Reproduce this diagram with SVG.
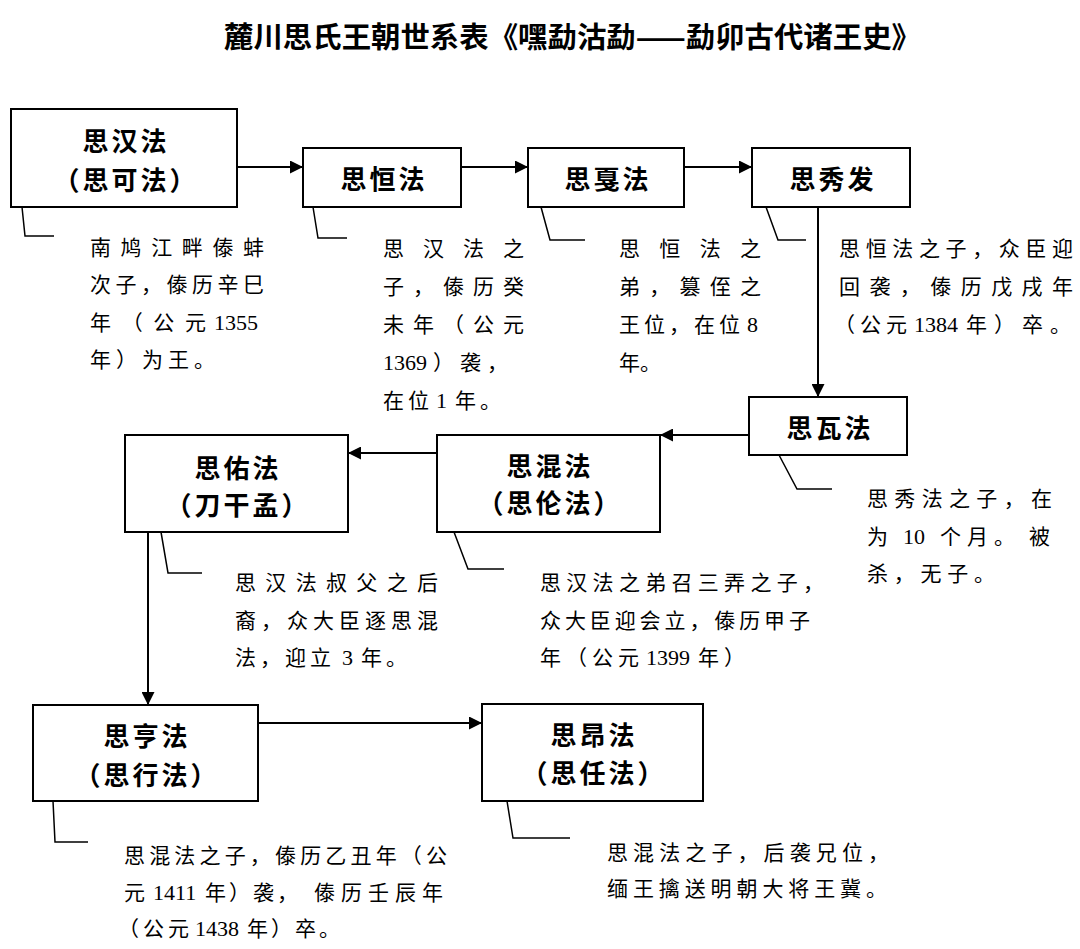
<svg xmlns="http://www.w3.org/2000/svg" width="1080" height="949" viewBox="0 0 1080 949">
<defs>
<marker id="ah" markerUnits="userSpaceOnUse" markerWidth="13" markerHeight="13" refX="13" refY="6.5" orient="auto">
<path d="M0,0 L13,6.5 L0,13 Z" fill="#000"/>
</marker>
<style>
.box{fill:#fff;stroke:#000;stroke-width:2}
.lbl{font-family:"Liberation Serif","Noto Sans CJK SC",serif;font-size:26px;font-weight:700;text-anchor:middle;fill:#000;letter-spacing:3px}
.note{font-family:"Liberation Serif","Noto Sans CJK SC",serif;font-size:21px;fill:#000}
.num{font-size:22px;letter-spacing:0}
.lead{fill:none;stroke:#000;stroke-width:1.5}
.conn{fill:none;stroke:#000;stroke-width:2;marker-end:url(#ah)}
.title{font-family:"Noto Sans CJK SC",sans-serif;font-size:29px;font-weight:700;fill:#000}
</style>
</defs>
<rect width="1080" height="949" fill="#fff"/>
<text class="title" x="224" y="48" textLength="697" lengthAdjust="spacingAndGlyphs">麓川思氏王朝世系表《嘿勐沽勐——勐卯古代诸王史》</text>

<g id="connectors">
<line class="conn" x1="237" y1="167" x2="303" y2="167"/>
<line class="conn" x1="461" y1="167" x2="528" y2="167"/>
<line class="conn" x1="684" y1="167" x2="752" y2="167"/>
<line class="conn" x1="818" y1="207" x2="818" y2="397"/>
<line class="conn" x1="749" y1="435" x2="660" y2="435"/>
<line class="conn" x1="437" y1="453" x2="348" y2="453"/>
<line class="conn" x1="148" y1="532" x2="148" y2="705"/>
<line class="conn" x1="258" y1="723" x2="482" y2="723"/>
</g>

<g id="node-sihanfa">
<rect class="box" x="11" y="109" width="226" height="98"/>
<text class="lbl" x="126" y="151">思汉法</text>
<text class="lbl" x="126" y="190">（思可法）</text>
<path class="lead" d="M22,207 L25,236 L54,236"/>
<text class="note" x="90" y="255" textLength="174" lengthAdjust="spacing">南鸠江畔傣蚌</text>
<text class="note" x="90" y="292" textLength="174" lengthAdjust="spacing">次子，傣历辛巳</text>
<text class="note" y="330"><tspan x="90" textLength="116" lengthAdjust="spacing">年（公元</tspan><tspan class="num" x="214">1355</tspan></text>
<text class="note" x="90" y="367" textLength="125" lengthAdjust="spacing">年）为王。</text>
</g>

<g id="node-sihengfa">
<rect class="box" x="303" y="148" width="158" height="59"/>
<text class="lbl" x="384" y="189">思恒法</text>
<path class="lead" d="M313,207 L318,238 L347,238"/>
<text class="note" x="383" y="256" textLength="141" lengthAdjust="spacing">思汉法之</text>
<text class="note" x="383" y="294" textLength="141" lengthAdjust="spacing">子，傣历癸</text>
<text class="note" x="383" y="332" textLength="141" lengthAdjust="spacing">未年（公元</text>
<text class="note" y="370"><tspan class="num" x="383">1369</tspan><tspan x="433" letter-spacing="6">）袭，</tspan></text>
<text class="note" y="408"><tspan x="383" letter-spacing="4">在位</tspan><tspan class="num" x="436">1</tspan><tspan x="455" letter-spacing="4">年。</tspan></text>
</g>

<g id="node-sijiafa">
<rect class="box" x="528" y="148" width="156" height="59"/>
<text class="lbl" x="608" y="189">思戛法</text>
<path class="lead" d="M541,207 L550,240 L585,240"/>
<text class="note" x="619" y="256" textLength="142" lengthAdjust="spacing">思恒法之</text>
<text class="note" x="619" y="294" textLength="142" lengthAdjust="spacing">弟，篡侄之</text>
<text class="note" y="332"><tspan x="619" letter-spacing="4">王位，在位</tspan><tspan class="num" x="747">8</tspan></text>
<text class="note" x="619" y="370">年。</text>
</g>

<g id="node-sixiufa">
<rect class="box" x="752" y="148" width="158" height="59"/>
<text class="lbl" x="833" y="189">思秀发</text>
<path class="lead" d="M766,207 L778,240 L806,240"/>
<text class="note" x="839" y="256" textLength="234" lengthAdjust="spacing">思恒法之子，众臣迎</text>
<text class="note" x="839" y="294" textLength="234" lengthAdjust="spacing">回袭，傣历戊戌年</text>
<text class="note" y="332"><tspan x="834" letter-spacing="5">（公元</tspan><tspan class="num" x="914">1384</tspan><tspan x="966" letter-spacing="7">年）卒。</tspan></text>
</g>

<g id="node-siwafa">
<rect class="box" x="749" y="397" width="158" height="58"/>
<text class="lbl" x="830" y="438">思瓦法</text>
<path class="lead" d="M779,455 L797,489 L832,489"/>
<text class="note" x="867" y="506" textLength="185" lengthAdjust="spacing">思秀法之子，在</text>
<text class="note" y="544"><tspan x="867">为</tspan><tspan class="num" x="903">10</tspan><tspan x="940" letter-spacing="6">个月。</tspan><tspan x="1029">被</tspan></text>
<text class="note" x="867" y="581" textLength="128" lengthAdjust="spacing">杀，无子。</text>
</g>

<g id="node-sihunfa">
<rect class="box" x="437" y="435" width="223" height="97"/>
<text class="lbl" x="550" y="476">思混法</text>
<text class="lbl" x="550" y="513">（思伦法）</text>
<path class="lead" d="M454,532 L468,569 L504,569"/>
<text class="note" x="540" y="590" textLength="284" lengthAdjust="spacing">思汉法之弟召三弄之子，</text>
<text class="note" x="540" y="628" textLength="270" lengthAdjust="spacing">众大臣迎会立，傣历甲子</text>
<text class="note" y="665"><tspan x="540" letter-spacing="5">年（公元</tspan><tspan class="num" x="646">1399</tspan><tspan x="698" letter-spacing="5">年）</tspan></text>
</g>

<g id="node-siyoufa">
<rect class="box" x="125" y="435" width="223" height="97"/>
<text class="lbl" x="238" y="478">思佑法</text>
<text class="lbl" x="238" y="515">（刀干孟）</text>
<path class="lead" d="M161,532 L168,573 L202,573"/>
<text class="note" x="235" y="590" textLength="203" lengthAdjust="spacing">思汉法叔父之后</text>
<text class="note" x="235" y="628" textLength="203" lengthAdjust="spacing">裔，众大臣逐思混</text>
<text class="note" y="665"><tspan x="235" letter-spacing="4">法，迎立</tspan><tspan class="num" x="342">3</tspan><tspan x="361" letter-spacing="4">年。</tspan></text>
</g>

<g id="node-sihengfa2">
<rect class="box" x="33" y="705" width="225" height="96"/>
<text class="lbl" x="147" y="746">思亨法</text>
<text class="lbl" x="147" y="785">（思行法）</text>
<path class="lead" d="M53,801 L55,842 L88,842"/>
<text class="note" x="124" y="863" textLength="323" lengthAdjust="spacing">思混法之子，傣历乙丑年（公</text>
<text class="note" y="900"><tspan x="124">元</tspan><tspan class="num" x="153">1411</tspan><tspan x="205" letter-spacing="3">年）袭，</tspan><tspan x="314" letter-spacing="6">傣历壬辰年</tspan></text>
<text class="note" y="936"><tspan x="118" letter-spacing="4">（公元</tspan><tspan class="num" x="195">1438</tspan><tspan x="247" letter-spacing="3">年）卒。</tspan></text>
</g>

<g id="node-siangfa">
<rect class="box" x="482" y="704" width="221" height="97"/>
<text class="lbl" x="594" y="745">思昂法</text>
<text class="lbl" x="594" y="783">（思任法）</text>
<path class="lead" d="M507,801 L513,838 L570,838"/>
<text class="note" x="607" y="860" textLength="282" lengthAdjust="spacing">思混法之子，后袭兄位，</text>
<text class="note" x="607" y="896" textLength="280" lengthAdjust="spacing">缅王擒送明朝大将王冀。</text>
</g>
</svg>
